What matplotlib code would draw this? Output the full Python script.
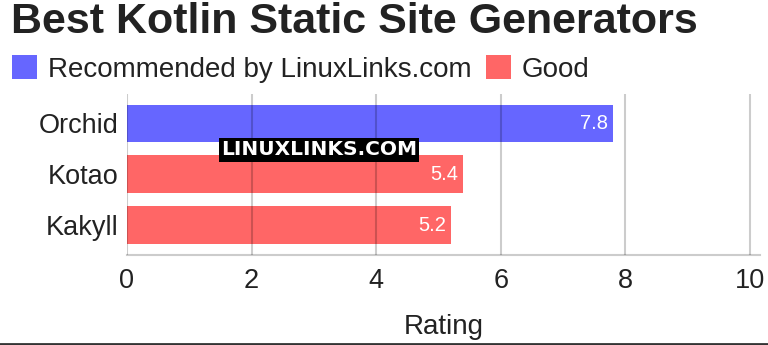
import matplotlib
matplotlib.use("Agg")
import matplotlib.pyplot as plt
from matplotlib.patches import Patch
from matplotlib.lines import Line2D

# data
names = ["Orchid", "Kotao", "Kakyll"]
ratings = [7.8, 5.4, 5.2]
groups = ["Recommended by LinuxLinks.com", "Good", "Good"]
group_colors = {"Recommended by LinuxLinks.com": "#6666ff", "Good": "#ff6666"}

FONT = "Liberation Sans"
TXT = "#222222"

fig = plt.figure(figsize=(7.68, 3.45), dpi=100)
ax = fig.add_axes([127 / 768, 90 / 345, (760 - 127) / 768, (255 - 94) / 345])

ypos = list(range(len(names)))
colors = [group_colors[g] for g in groups]
ax.barh(ypos, ratings, height=0.74, color=colors, zorder=1)

for y, r in zip(ypos, ratings):
    ax.text(r - 0.08, y, f"{r}", color="white", ha="right", va="center",
            fontsize=14.5, family=FONT, zorder=3)

ax.set_xlim(0, 10.16)
ax.set_ylim(2.59, -0.58)
ax.set_xticks([0, 2, 4, 6, 8, 10])
ax.set_yticks(ypos)
ax.set_yticklabels(names, family=FONT, fontsize=19.5, color=TXT)
for lab in ax.get_xticklabels():
    lab.set_family(FONT)
    lab.set_fontsize(19.5)
    lab.set_color(TXT)
ax.tick_params(length=0)
ax.tick_params(axis="x", pad=9)
ax.tick_params(axis="y", pad=6)
ax.set_xlabel("Rating", family=FONT, fontsize=20, color=TXT, labelpad=15)

ax.grid(axis="x", color="black", alpha=0.2, linewidth=1.5, zorder=2)
ax.set_axisbelow(False)
for s in ["top", "right", "left"]:
    ax.spines[s].set_visible(False)
ax.spines["bottom"].set_color("#cccccc")
ax.spines["bottom"].set_linewidth(1.5)

# title and legend
fig.text(11 / 768, 1 - 33 / 345, "Best Kotlin Static Site Generators",
         family=FONT, fontweight="bold", fontsize=31,
         color=TXT, va="baseline")
handles = [Patch(facecolor=group_colors[k], edgecolor="none", label=k)
           for k in ["Recommended by LinuxLinks.com", "Good"]]
leg = fig.legend(handles=handles, loc="upper left", bbox_to_anchor=(4 / 768, 1 - 47 / 345),
                 ncol=2, frameon=False, prop={"family": FONT, "size": 20},
                 handlelength=0.9, handleheight=0.95, handletextpad=0.4,
                 columnspacing=0.5, borderaxespad=0, borderpad=0.3)
for t in leg.get_texts():
    t.set_color(TXT)

# watermark
fig.text(319 / 768, 1 - 150 / 345, "LINUXLINKS.COM", color="white",
         family="DejaVu Sans", fontweight="bold", fontsize=14.5,
         ha="center", va="center", zorder=5,
         bbox=dict(facecolor="black", edgecolor="none", pad=1.5))

# bottom border
fig.add_artist(Line2D([0, 1], [0.004, 0.004], color="#333333", linewidth=2,
                      transform=fig.transFigure))

fig.savefig("out.png", dpi=100)
